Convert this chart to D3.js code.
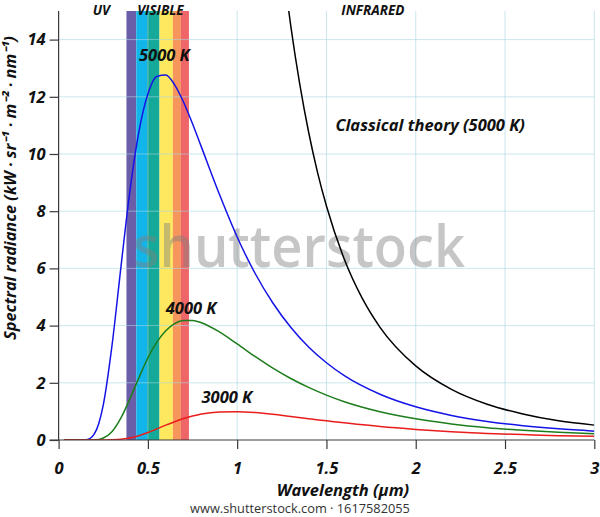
<!DOCTYPE html>
<html>
<head>
<meta charset="utf-8">
<script src="https://cdn.jsdelivr.net/npm/d3@7"></script>
<style>
  body { margin: 0; background: #fff; }
  svg text { font-family: "Open Sans", sans-serif; }
</style>
</head>
<body>
<svg id="chart" width="600" height="517"></svg>
<script>
// wavelength grid (µm) and radiance (kW·sr⁻¹·m⁻²·nm⁻¹)
const wavelengths = [0.03, 0.1, 0.15, 0.175, 0.2, 0.225, 0.25, 0.3, 0.35, 0.4, 0.45, 0.5, 0.55, 0.6, 0.65, 0.7, 0.75, 0.8, 0.9, 1.0, 1.1, 1.2, 1.3, 1.4, 1.5, 1.6, 1.8, 2.0, 2.2, 2.4, 2.6, 2.8, 3.0];
const rad5000 = [0, 0, 0.01, 0.05, 0.21, 0.58, 1.22, 3.35, 6.10, 8.74, 10.79, 12.10, 12.71, 12.76, 12.42, 11.81, 11.06, 10.24, 8.60, 7.10, 5.83, 4.79, 3.94, 3.25, 2.70, 2.25, 1.60, 1.16, 0.86, 0.65, 0.50, 0.39, 0.31];
const rad4000 = [0, 0, 0, 0, 0.01, 0.02, 0.07, 0.30, 0.78, 1.45, 2.18, 2.87, 3.42, 3.82, 4.07, 4.18, 4.18, 4.10, 3.78, 3.36, 2.92, 2.51, 2.15, 1.84, 1.57, 1.34, 0.99, 0.74, 0.56, 0.43, 0.34, 0.27, 0.22];
const rad3000 = [0, 0, 0, 0, 0, 0, 0, 0.01, 0.03, 0.07, 0.15, 0.26, 0.39, 0.52, 0.64, 0.75, 0.84, 0.91, 0.98, 0.99, 0.96, 0.90, 0.82, 0.74, 0.67, 0.60, 0.47, 0.37, 0.29, 0.23, 0.19, 0.15, 0.13];

const classicalWl = [1.25, 1.3, 1.35, 1.4, 1.45, 1.5, 1.6, 1.7, 1.8, 2.0, 2.2, 2.4, 2.6, 2.8, 3.0];
const classicalRad = [16.95, 14.49, 12.46, 10.77, 9.36, 8.18, 6.32, 4.96, 3.94, 2.59, 1.77, 1.25, 0.91, 0.67, 0.52];

const bandStart = [0.38, 0.435, 0.495, 0.565, 0.64, 0.685];
const bandEnd = [0.435, 0.495, 0.565, 0.64, 0.685, 0.73];
const bandColors = ['#6b5ea8', '#12b5ea', '#14a999', '#fde85f', '#f6955c', '#ee6667'];

const regionNames = ['UV', 'VISIBLE', 'INFRARED'];
const regionCenters = [0.24, 0.57, 1.76];

const xTicks = [0, 0.5, 1, 1.5, 2, 2.5, 3];
const yTicks = [0, 2, 4, 6, 8, 10, 12, 14];

const svg = d3.select('#chart');
const plotLeft = 58.6, plotRight = 594.3, plotTop = 11, plotBottom = 440;

const x = d3.scaleLinear().domain([0, 3]).range([plotLeft, plotRight]);
const y = d3.scaleLinear().domain([0, 15]).range([plotBottom, plotTop]);

svg.append('defs').append('clipPath').attr('id', 'plot')
  .append('rect').attr('x', plotLeft).attr('y', plotTop)
  .attr('width', plotRight - plotLeft).attr('height', plotBottom - plotTop);

// visible spectrum band
svg.append('g').selectAll('rect')
  .data(bandColors)
  .enter()
  .append('rect')
  .attr('x', (d, i) => x(bandStart[i]))
  .attr('y', plotTop)
  .attr('width', (d, i) => x(bandEnd[i]) - x(bandStart[i]))
  .attr('height', plotBottom - plotTop)
  .attr('fill', d => d);

// grid
const grid = svg.append('g').attr('stroke', '#a9d6e3').attr('stroke-opacity', 0.6).attr('stroke-width', 1);
grid.selectAll('.vg').data(xTicks.slice(1)).enter().append('line')
  .attr('x1', d => x(d)).attr('x2', d => x(d))
  .attr('y1', plotTop).attr('y2', plotBottom);
grid.selectAll('.hg').data(yTicks.slice(1)).enter().append('line')
  .attr('x1', plotLeft).attr('x2', plotRight)
  .attr('y1', d => y(d)).attr('y2', d => y(d));

// watermark
svg.append('text')
  .attr('x', 299).attr('y', 267)
  .attr('text-anchor', 'middle')
  .attr('font-size', 58).attr('font-weight', 600)
  .attr('textLength', 332).attr('lengthAdjust', 'spacingAndGlyphs')
  .attr('fill', '#808080').attr('fill-opacity', 0.45)
  .text('shutterstock');

// curves
const line = d3.line().x(d => x(d[0])).y(d => y(d[1])).curve(d3.curveMonotoneX);
const plot = svg.append('g').attr('clip-path', 'url(#plot)').attr('fill', 'none').attr('stroke-width', 1.5);
const series = [[rad5000, '#1414e6'], [rad4000, '#1d7d1d'], [rad3000, '#ea1c1c']];
series.forEach(([vals, col]) => {
  plot.append('path')
    .datum(wavelengths.map((w, i) => [w, vals[i]]))
    .attr('stroke', col)
    .attr('d', line);
});
plot.append('path')
  .datum(classicalWl.map((w, i) => [w, classicalRad[i]]))
  .attr('stroke', '#000')
  .attr('d', line);

// axes
const xAxis = svg.append('g')
  .attr('transform', 'translate(0,' + plotBottom + ')')
  .call(d3.axisBottom(x).tickValues(xTicks).tickFormat(d3.format('')).tickSize(9).tickSizeOuter(0).tickPadding(13));
const yAxis = svg.append('g')
  .attr('transform', 'translate(' + plotLeft + ',0)')
  .call(d3.axisLeft(y).tickValues(yTicks).tickSize(9).tickSizeOuter(0).tickPadding(4));
yAxis.select('.domain').attr('d', 'M0,' + plotTop + 'V' + plotBottom);
[xAxis, yAxis].forEach(a => {
  a.selectAll('.domain, line').attr('stroke', '#3a3a3a').attr('stroke-width', 1.2);
  a.selectAll('text')
    .attr('font-family', '"Open Sans", sans-serif')
    .attr('font-size', 16.5).attr('font-weight', 700).attr('font-style', 'italic')
    .attr('fill', '#111');
});
xAxis.select('.domain').attr('d', 'M' + (plotLeft - 9) + ',0H' + plotRight);

const labelStyle = sel => sel
  .attr('font-weight', 700).attr('font-style', 'italic').attr('fill', '#111');

// region labels
svg.append('g').selectAll('text')
  .data(regionNames)
  .enter()
  .append('text')
  .attr('x', (d, i) => x(regionCenters[i]))
  .attr('y', 15)
  .attr('text-anchor', 'middle')
  .attr('font-size', 13.5)
  .call(labelStyle)
  .text(d => d);

// curve labels
const curveLabels = ['5000 K', '4000 K', '3000 K', 'Classical theory (5000 K)'];
const curveLabelX = [0.45, 0.6, 0.8, 1.55];
const curveLabelY = [13.25, 4.4, 1.3, 10.8];
svg.append('g').selectAll('text')
  .data(curveLabels)
  .enter()
  .append('text')
  .attr('x', (d, i) => x(curveLabelX[i]))
  .attr('y', (d, i) => y(curveLabelY[i]))
  .attr('font-size', 16.5)
  .call(labelStyle)
  .text(d => d);

// axis titles
svg.append('text')
  .attr('x', 343).attr('y', 496)
  .attr('text-anchor', 'middle')
  .attr('font-size', 16.5)
  .call(labelStyle)
  .text('Wavelength (µm)');

svg.append('text')
  .attr('transform', 'translate(16,188) rotate(-90)')
  .attr('text-anchor', 'middle')
  .attr('font-size', 16.3)
  .call(labelStyle)
  .text('Spectral radiance (kW · sr⁻¹ · m⁻² · nm⁻¹)');

svg.append('text')
  .attr('x', 300).attr('y', 513)
  .attr('text-anchor', 'middle')
  .attr('font-size', 12.8)
  .attr('fill', '#333')
  .text('www.shutterstock.com · 1617582055');
</script>
</body>
</html>
